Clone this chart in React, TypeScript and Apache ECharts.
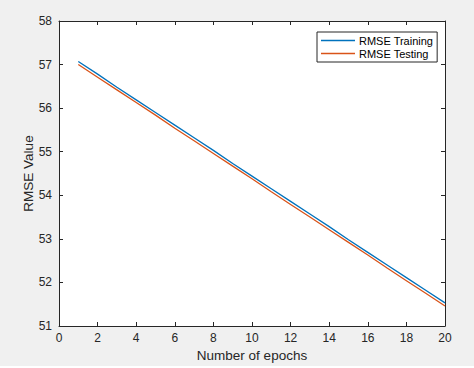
import React, { useEffect, useRef } from "react";
import * as echarts from "echarts";

const epochs = [1, 2, 3, 4, 5, 6, 7, 8, 9, 10, 11, 12, 13, 14, 15, 16, 17, 18, 19, 20];
const rmseTraining = [57.07, 56.78, 56.48, 56.19, 55.90, 55.61, 55.32, 55.03, 54.73, 54.44, 54.15, 53.86, 53.57, 53.28, 52.98, 52.69, 52.40, 52.11, 51.82, 51.53];
const rmseTesting = [57.0, 56.71, 56.42, 56.13, 55.84, 55.54, 55.25, 54.96, 54.67, 54.38, 54.08, 53.79, 53.50, 53.21, 52.92, 52.63, 52.33, 52.04, 51.75, 51.46];
const seriesNames = ["RMSE Training", "RMSE Testing"];
const xTitle = "Number of epochs";
const yTitle = "RMSE Value";

export default function App() {
  const ref = useRef<HTMLDivElement>(null);
  useEffect(() => {
    if (!ref.current) return;
    const chart = echarts.init(ref.current, null, { renderer: "svg" });
    const font = "Liberation Sans, Arial, sans-serif";
    const axisColor = "#262626";
    chart.setOption({
      animation: false,
      backgroundColor: "#f0f0f0",
      textStyle: { fontFamily: font },
      graphic: [
        {
          type: "rect",
          left: 0,
          top: 366,
          shape: { width: 474, height: 2 },
          style: { fill: "#ffffff" },
          silent: true,
        },
      ],
      grid: {
        left: 59,
        right: 29,
        top: 21,
        bottom: 42,
        show: true,
        backgroundColor: "#ffffff",
        borderColor: "transparent",
      },
      legend: {
        orient: "vertical",
        left: 317,
        top: 32,
        data: seriesNames,
        backgroundColor: "#ffffff",
        borderColor: axisColor,
        borderWidth: 1,
        borderRadius: 0,
        padding: [3, 4, 3, 4],
        itemGap: 2,
        itemWidth: 34,
        itemHeight: 1.5,
        icon: "rect",
        textStyle: { fontSize: 11, color: "#000", fontFamily: font, padding: [0, 0, 0, -1] },
      },
      xAxis: [
        {
          type: "value",
          min: 0,
          max: 20,
          interval: 2,
          name: xTitle,
          nameLocation: "middle",
          nameGap: 22,
          nameTextStyle: { fontSize: 13.5, color: axisColor, fontFamily: font },
          axisLine: { show: true, lineStyle: { color: axisColor, width: 1 } },
          axisTick: { show: true, inside: true, length: 4, lineStyle: { color: axisColor } },
          axisLabel: { fontSize: 12, color: axisColor, margin: 6, fontFamily: font },
          splitLine: { show: false },
        },
        {
          type: "value",
          position: "top",
          min: 0,
          max: 20,
          interval: 2,
          axisLine: { show: true, onZero: false, lineStyle: { color: axisColor, width: 1 } },
          axisTick: { show: true, inside: true, length: 4, lineStyle: { color: axisColor } },
          axisLabel: { show: false },
          splitLine: { show: false },
        },
      ],
      yAxis: [
        {
          type: "value",
          min: 51,
          max: 58,
          interval: 1,
          name: yTitle,
          nameLocation: "middle",
          nameGap: 24,
          nameMoveOverlap: false,
          nameRotate: 90,
          nameTextStyle: { fontSize: 13.5, color: axisColor, fontFamily: font },
          axisLine: { show: true, onZero: false, lineStyle: { color: axisColor, width: 1 } },
          axisTick: { show: true, inside: true, length: 4, lineStyle: { color: axisColor } },
          axisLabel: { fontSize: 12, color: axisColor, margin: 7, fontFamily: font },
          splitLine: { show: false },
        },
        {
          type: "value",
          position: "right",
          min: 51,
          max: 58,
          interval: 1,
          axisLine: { show: true, onZero: false, lineStyle: { color: axisColor, width: 1 } },
          axisTick: { show: true, inside: true, length: 4, lineStyle: { color: axisColor } },
          axisLabel: { show: false },
          splitLine: { show: false },
        },
      ],
      series: [
        {
          name: seriesNames[0],
          type: "line",
          data: epochs.map((e, i) => [e, rmseTraining[i]]),
          showSymbol: false,
          symbol: "none",
          lineStyle: { color: "#0072BD", width: 1.3 },
          itemStyle: { color: "#0072BD" },
        },
        {
          name: seriesNames[1],
          type: "line",
          data: epochs.map((e, i) => [e, rmseTesting[i]]),
          showSymbol: false,
          symbol: "none",
          lineStyle: { color: "#D95319", width: 1.3 },
          itemStyle: { color: "#D95319" },
        },
      ],
    });
    return () => chart.dispose();
  }, []);
  return <div ref={ref} style={{ position: "fixed", left: 0, top: 0, width: 474, height: 368 }} />;
}
